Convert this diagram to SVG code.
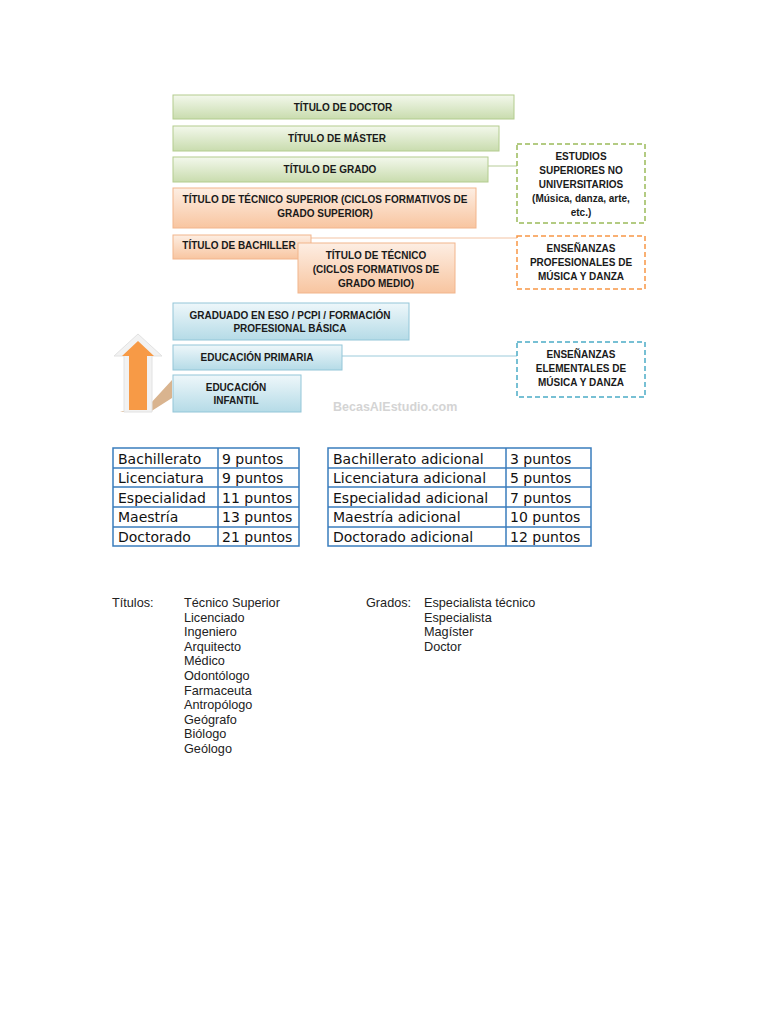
<svg xmlns="http://www.w3.org/2000/svg" width="768" height="1024" viewBox="0 0 768 1024">
<defs>
<linearGradient id="gG" x1="0" y1="0" x2="0" y2="1"><stop offset="0" stop-color="#f3f8ec"/><stop offset="1" stop-color="#c9dcae"/></linearGradient>
<linearGradient id="gO" x1="0" y1="0" x2="0" y2="1"><stop offset="0" stop-color="#fdeee3"/><stop offset="1" stop-color="#f8c5a0"/></linearGradient>
<linearGradient id="gB" x1="0" y1="0" x2="0" y2="1"><stop offset="0" stop-color="#eef7fa"/><stop offset="1" stop-color="#b5dbe7"/></linearGradient>
<style>
.g{fill:url(#gG);stroke:#b3cc8e;stroke-width:1}
.o{fill:url(#gO);stroke:#f2b58c;stroke-width:1}
.b{fill:url(#gB);stroke:#93c6d8;stroke-width:1}
.bt{font-family:"Liberation Sans",Arial,sans-serif;font-weight:bold;font-size:10px;fill:#1a1a1a;text-anchor:middle}
.dg{fill:none;stroke:#9bbb59;stroke-width:1.5;stroke-dasharray:5,3}
.do{fill:none;stroke:#f79646;stroke-width:1.5;stroke-dasharray:5,3}
.db{fill:none;stroke:#4bacc6;stroke-width:1.5;stroke-dasharray:5,3}
.tb{fill:none;stroke:#3a7dbd;stroke-width:1.5}
.tt{font-family:"DejaVu Sans",sans-serif;font-size:14px;fill:#111}
.lt{font-family:"Liberation Sans",Arial,sans-serif;font-size:12.7px;fill:#222}
</style>
</defs>
<rect width="768" height="1024" fill="#ffffff"/>

<g id="connectors">
<line x1="488" y1="166" x2="517" y2="166" stroke="#b7cc98" stroke-width="1"/>
<line x1="311" y1="238" x2="517" y2="238" stroke="#f3c3a3" stroke-width="1"/>
<line x1="342" y1="356" x2="517" y2="356" stroke="#9ccbdb" stroke-width="1"/>
</g>

<g id="arrow">
<polygon points="120,412 150,404 172,380 172,398 150,412" fill="#d9b48f"/>
<polygon points="138,334 162,356 152,356 152,412 124,412 124,356 114,356" fill="#f2f2f2" stroke="#e2e2e2" stroke-width="1"/>
<polygon points="138,341 154,356 147,356 147,410 129,410 129,356 122,356" fill="#f79a46"/>
</g>

<g id="doctor"><rect class="g" x="173" y="95" width="341" height="24"/><text class="bt" x="343" y="111">TÍTULO DE DOCTOR</text></g>
<g id="master"><rect class="g" x="173" y="126" width="326" height="25"/><text class="bt" x="337" y="142">TÍTULO DE MÁSTER</text></g>
<g id="grado"><rect class="g" x="173" y="157" width="315" height="25"/><text class="bt" x="330" y="173">TÍTULO DE GRADO</text></g>
<g id="tecnico-superior"><rect class="o" x="173" y="188" width="303" height="40"/><text class="bt" x="325" y="203">TÍTULO DE TÉCNICO SUPERIOR  (CICLOS FORMATIVOS DE</text><text class="bt" x="325" y="217">GRADO SUPERIOR)</text></g>
<g id="bachiller"><rect class="o" x="173" y="235" width="138" height="24"/><text class="bt" x="239" y="249">TÍTULO DE BACHILLER</text></g>
<g id="tecnico"><rect class="o" x="298" y="243" width="157" height="50"/><text class="bt" x="376" y="259">TÍTULO DE TÉCNICO</text><text class="bt" x="376" y="273">(CICLOS FORMATIVOS DE</text><text class="bt" x="376" y="287">GRADO MEDIO)</text></g>
<g id="eso"><rect class="b" x="173" y="303" width="236" height="37"/><text class="bt" x="290" y="319">GRADUADO EN ESO / PCPI / FORMACIÓN</text><text class="bt" x="290" y="332">PROFESIONAL BÁSICA</text></g>
<g id="primaria"><rect class="b" x="173" y="345" width="169" height="25"/><text class="bt" x="257" y="361">EDUCACIÓN PRIMARIA</text></g>
<g id="infantil"><rect class="b" x="173" y="375" width="128" height="37"/><text class="bt" x="236" y="391">EDUCACIÓN</text><text class="bt" x="236" y="404">INFANTIL</text></g>

<g id="superiores-no-univ"><rect class="dg" x="517" y="144" width="128" height="79"/>
<text class="bt" x="581" y="160">ESTUDIOS</text><text class="bt" x="581" y="174">SUPERIORES NO</text><text class="bt" x="581" y="188">UNIVERSITARIOS</text><text class="bt" x="581" y="202">(Música, danza, arte,</text><text class="bt" x="581" y="216">etc.)</text></g>
<g id="profesionales"><rect class="do" x="517" y="236" width="128" height="53"/>
<text class="bt" x="581" y="252">ENSEÑANZAS</text><text class="bt" x="581" y="266">PROFESIONALES DE</text><text class="bt" x="581" y="280">MÚSICA Y DANZA</text></g>
<g id="elementales"><rect class="db" x="517" y="342" width="128" height="55"/>
<text class="bt" x="581" y="358">ENSEÑANZAS</text><text class="bt" x="581" y="372">ELEMENTALES DE</text><text class="bt" x="581" y="386">MÚSICA Y DANZA</text></g>

<text x="333" y="411" font-family="Liberation Sans,Arial,sans-serif" font-weight="bold" font-size="12.5" fill="#d4d4d4">BecasAlEstudio.com</text>

<g id="table1">
<rect class="tb" x="113" y="448" width="186" height="98"/>
<line class="tb" x1="218" y1="448" x2="218" y2="546"/>
<line class="tb" x1="113" y1="468" x2="299" y2="468"/>
<line class="tb" x1="113" y1="487" x2="299" y2="487"/>
<line class="tb" x1="113" y1="507" x2="299" y2="507"/>
<line class="tb" x1="113" y1="527" x2="299" y2="527"/>
<text class="tt" x="118" y="464">Bachillerato</text><text class="tt" x="222" y="464">9 puntos</text>
<text class="tt" x="118" y="483">Licenciatura</text><text class="tt" x="222" y="483">9 puntos</text>
<text class="tt" x="118" y="503">Especialidad</text><text class="tt" x="222" y="503">11 puntos</text>
<text class="tt" x="118" y="522">Maestría</text><text class="tt" x="222" y="522">13 puntos</text>
<text class="tt" x="118" y="542">Doctorado</text><text class="tt" x="222" y="542">21 puntos</text>
</g>

<g id="table2">
<rect class="tb" x="328" y="448" width="263" height="98"/>
<line class="tb" x1="506" y1="448" x2="506" y2="546"/>
<line class="tb" x1="328" y1="468" x2="591" y2="468"/>
<line class="tb" x1="328" y1="487" x2="591" y2="487"/>
<line class="tb" x1="328" y1="507" x2="591" y2="507"/>
<line class="tb" x1="328" y1="527" x2="591" y2="527"/>
<text class="tt" x="333" y="464">Bachillerato adicional</text><text class="tt" x="510" y="464">3 puntos</text>
<text class="tt" x="333" y="483">Licenciatura adicional</text><text class="tt" x="510" y="483">5 puntos</text>
<text class="tt" x="333" y="503">Especialidad adicional</text><text class="tt" x="510" y="503">7 puntos</text>
<text class="tt" x="333" y="522">Maestría adicional</text><text class="tt" x="510" y="522">10 puntos</text>
<text class="tt" x="333" y="542">Doctorado adicional</text><text class="tt" x="510" y="542">12 puntos</text>
</g>

<g id="titulos">
<text class="lt" x="112" y="607">Títulos:</text>
<text class="lt" x="184" y="607">Técnico Superior</text>
<text class="lt" x="184" y="622">Licenciado</text>
<text class="lt" x="184" y="636">Ingeniero</text>
<text class="lt" x="184" y="651">Arquitecto</text>
<text class="lt" x="184" y="665">Médico</text>
<text class="lt" x="184" y="680">Odontólogo</text>
<text class="lt" x="184" y="695">Farmaceuta</text>
<text class="lt" x="184" y="709">Antropólogo</text>
<text class="lt" x="184" y="724">Geógrafo</text>
<text class="lt" x="184" y="738">Biólogo</text>
<text class="lt" x="184" y="753">Geólogo</text>
</g>
<g id="grados">
<text class="lt" x="366" y="607">Grados:</text>
<text class="lt" x="424" y="607">Especialista técnico</text>
<text class="lt" x="424" y="622">Especialista</text>
<text class="lt" x="424" y="636">Magíster</text>
<text class="lt" x="424" y="651">Doctor</text>
</g>
</svg>
